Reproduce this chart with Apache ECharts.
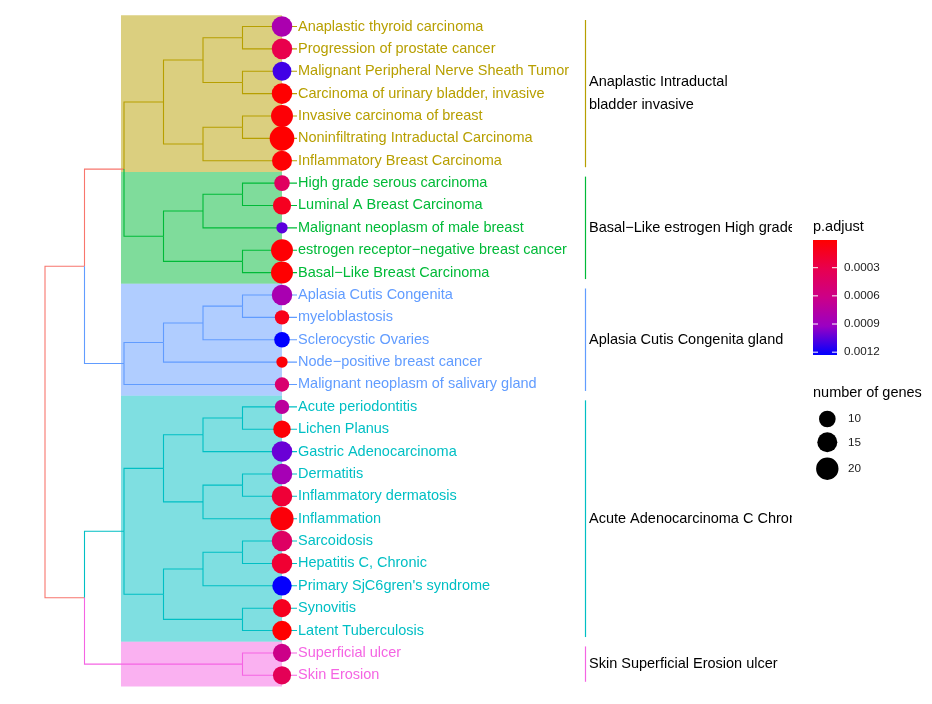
<!DOCTYPE html>
<html>
<head>
<meta charset="utf-8">
<script src="https://cdn.jsdelivr.net/npm/echarts@6/dist/echarts.min.js"></script>
<style>html,body{margin:0;padding:0;background:#fff;}#c{width:932px;height:704px;}</style>
</head>
<body>
<div id="c"></div>
<script>
// ---------- data ----------
const leafNames = [
  "Anaplastic thyroid carcinoma",
  "Progression of prostate cancer",
  "Malignant Peripheral Nerve Sheath Tumor",
  "Carcinoma of urinary bladder, invasive",
  "Invasive carcinoma of breast",
  "Noninfiltrating Intraductal Carcinoma",
  "Inflammatory Breast Carcinoma",
  "High grade serous carcinoma",
  "Luminal A Breast Carcinoma",
  "Malignant neoplasm of male breast",
  "estrogen receptor\u2212negative breast cancer",
  "Basal\u2212Like Breast Carcinoma",
  "Aplasia Cutis Congenita",
  "myeloblastosis",
  "Sclerocystic Ovaries",
  "Node\u2212positive breast cancer",
  "Malignant neoplasm of salivary gland",
  "Acute periodontitis",
  "Lichen Planus",
  "Gastric Adenocarcinoma",
  "Dermatitis",
  "Inflammatory dermatosis",
  "Inflammation",
  "Sarcoidosis",
  "Hepatitis C, Chronic",
  "Primary SjC6gren's syndrome",
  "Synovitis",
  "Latent Tuberculosis",
  "Superficial ulcer",
  "Skin Erosion"
];
const leafCluster = [0,0,0,0,0,0,0, 1,1,1,1,1, 2,2,2,2,2, 3,3,3,3,3,3,3,3,3,3,3, 4,4];
const pAdjust = [
  0.00082, 0.00030, 0.00110, 0.00001, 0.00003, 0.000005, 0.00002,
  0.00040, 0.00013, 0.00105, 0.00002, 0.000008,
  0.00083, 0.00010, 0.00123, 0.00003, 0.00048,
  0.00072, 0.00003, 0.00102, 0.00085, 0.00022, 0.00004, 0.00042, 0.00020, 0.00122, 0.00013, 0.00001,
  0.00062, 0.00035
];
const geneCount = [
  16, 16, 13, 16, 19, 26, 15,
  9, 12, 7, 19, 19,
  16, 8, 9, 7, 8,
  8, 11, 16, 16, 16, 22, 16, 16, 14, 12, 14,
  12, 12
];
// dendrogram as nested leaf indices
const tree = [
  [
    [
      [[[0,1],[2,3]], [[4,5],6]],
      [[[7,8],9], [10,11]]
    ],
    [[[[12,13],14],15],16]
  ],
  [
    [
      [[[17,18],19], [[20,21],22]],
      [[[23,24],25], [26,27]]
    ],
    [28,29]
  ]
];
const clusterLabels = [
  "Anaplastic Intraductal\nbladder invasive",
  "Basal\u2212Like estrogen High grade",
  "Aplasia Cutis Congenita gland",
  "Acute Adenocarcinoma C Chronic",
  "Skin Superficial Erosion ulcer"
];
const pTicks = [0.0003, 0.0006, 0.0009, 0.0012];
const pTickLabels = ["0.0003", "0.0006", "0.0009", "0.0012"];
const sizeTicks = [10, 15, 20];

// ---------- styles ----------
const clusterColors = ['#B79F00', '#00BA38', '#619CFF', '#00BFC4', '#F564E3'];
const outerColor = '#F8766D';
const gradColors = ['#FF0000', '#E8004F', '#CC0088', '#9A00C3', '#0000FF'];
const FONT = "'Liberation Sans', Arial, Helvetica, sans-serif";

// ---------- tree layout (from structure) ----------
function build(node) {
  if (typeof node === 'number') return {leaf: true, idx: node, y: node, h: 0, leaves: [node]};
  const kids = node.map(build);
  const h = Math.max(...kids.map(k => k.h)) + 1;
  const y = (kids[0].y + kids[kids.length - 1].y) / 2;
  return {leaf: false, kids, h, y, leaves: kids.flatMap(k => k.leaves)};
}
const root = build(tree);
const HMAX = root.h;
function groupOf(n) {
  const s = new Set(n.leaves.map(i => leafCluster[i]));
  return s.size === 1 ? [...s][0] : -1;
}
const edges = [];
(function collect(n) {
  if (n.leaf) return;
  n.kids.forEach(k => {
    edges.push([HMAX - n.h, n.y, HMAX - k.h, k.y, groupOf(k), k.leaf ? 1 : 0]);
    collect(k);
  });
})(root);

const clusters = clusterLabels.map((lab, ci) => {
  const idx = leafCluster.map((c, i) => c === ci ? i : -1).filter(i => i >= 0);
  return [Math.min(...idx), Math.max(...idx), ci];
});

const nMin = Math.min(...geneCount), nMax = Math.max(...geneCount);
function sizeFn(n) { return 11.3 + 13.4 * Math.sqrt((n - nMin) / (nMax - nMin)); }
const pMin = Math.min(...pAdjust), pMax = Math.max(...pAdjust);

const pointData = leafNames.map((nm, i) => [HMAX, i, pAdjust[i], geneCount[i], nm]);

const chart = echarts.init(document.getElementById('c'), null, {renderer: 'canvas'});

// legend geometry
const CB = {x: 813, y: 240, w: 24, h: 115};
const graphics = [];
graphics.push({type: 'text', z: 100, left: 813, top: 219, style: {text: 'p.adjust', font: '14.5px ' + FONT, fill: '#000'}});
graphics.push({type: 'rect', z: 100, shape: {x: CB.x, y: CB.y, width: CB.w, height: CB.h},
  style: {fill: {type: 'linear', x: 0, y: 0, x2: 0, y2: 1,
    colorStops: gradColors.map((c, i) => ({offset: i / (gradColors.length - 1), color: c}))}}});
pTicks.forEach((v, i) => {
  const yy = CB.y + (v - pMin) / (pMax - pMin) * CB.h;
  graphics.push({type: 'line', z: 101, shape: {x1: CB.x, y1: yy, x2: CB.x + 5, y2: yy}, style: {stroke: '#fff', lineWidth: 1}});
  graphics.push({type: 'line', z: 101, shape: {x1: CB.x + CB.w - 5, y1: yy, x2: CB.x + CB.w, y2: yy}, style: {stroke: '#fff', lineWidth: 1}});
  graphics.push({type: 'text', z: 100, x: 844, y: yy, style: {text: pTickLabels[i], font: '11.7px ' + FONT, fill: '#1a1a1a', verticalAlign: 'middle'}});
});
graphics.push({type: 'text', z: 100, x: 813, y: 393, style: {text: 'number of genes', font: '14.5px ' + FONT, fill: '#000', verticalAlign: 'middle'}});
const sizeY = [419, 442.3, 468.7];
sizeTicks.forEach((n, i) => {
  graphics.push({type: 'circle', z: 100, shape: {cx: 827.3, cy: sizeY[i], r: sizeFn(n) / 2}, style: {fill: '#000'}});
  graphics.push({type: 'text', z: 100, x: 848, y: sizeY[i], style: {text: String(n), font: '11.7px ' + FONT, fill: '#1a1a1a', verticalAlign: 'middle'}});
});

const LABEL_OFF = 16, BAR_OFF = 303.5, CLADE_TXT_OFF = 307, HILIGHT_LEFT = 1.924, PANEL_RIGHT = 792;

const option = {
  backgroundColor: '#fff',
  animation: false,
  grid: {left: 45, top: 26.5, width: 237, height: 648.8, show: false},
  xAxis: {type: 'value', min: 0, max: HMAX, show: false},
  yAxis: {type: 'value', min: 0, max: leafNames.length - 1, inverse: true, show: false},
  visualMap: {type: 'continuous', show: false, seriesIndex: 2, dimension: 2, min: pMin, max: pMax,
    inRange: {color: gradColors}},
  graphic: graphics,
  series: [
    { // hilight rectangles
      type: 'custom', clip: false, z: 1,
      data: clusters,
      renderItem: function (params, api) {
        const a = api.coord([HILIGHT_LEFT, api.value(0) - 0.5]);
        const b = api.coord([HMAX, api.value(1) + 0.5]);
        return {type: 'rect', shape: {x: a[0], y: a[1], width: b[0] - a[0], height: b[1] - a[1]},
          style: {fill: clusterColors[api.value(2)], opacity: 0.5}};
      }
    },
    { // tree edges
      type: 'custom', clip: false, z: 2,
      data: edges,
      renderItem: function (params, api) {
        const p = api.coord([api.value(0), api.value(1)]);
        const m = api.coord([api.value(0), api.value(3)]);
        const c = api.coord([api.value(2), api.value(3)]);
        if (api.value(5) === 1) c[0] += LABEL_OFF - 1;
        const g = api.value(4);
        return {type: 'polyline', shape: {points: [p, m, c]},
          style: {stroke: g < 0 ? outerColor : clusterColors[g], lineWidth: 1.1, fill: null}};
      }
    },
    { // leaf points
      type: 'scatter', z: 3,
      data: pointData,
      encode: {x: 0, y: 1},
      symbol: 'circle',
      symbolSize: function (val) { return sizeFn(val[3]); },
      itemStyle: {opacity: 1}
    },
    { // leaf labels
      type: 'custom', clip: false, z: 4,
      data: pointData.map(d => [d[0], d[1]]),
      renderItem: function (params, api) {
        const i = api.value(1);
        const c = api.coord([api.value(0), i]);
        return {type: 'text', x: c[0] + LABEL_OFF, y: c[1],
          style: {text: leafNames[i], font: '14.5px ' + FONT, fill: clusterColors[leafCluster[i]],
            verticalAlign: 'middle', align: 'left'}};
      }
    },
    { // clade bars + labels (clipped at the panel edge)
      type: 'custom', clip: false, z: 4,
      data: clusters,
      renderItem: function (params, api) {
        const s = api.value(0), e = api.value(1), ci = api.value(2);
        const a = api.coord([HMAX, s - 0.29]);
        const b = api.coord([HMAX, e + 0.29]);
        const mid = api.coord([HMAX, (s + e) / 2]);
        return {type: 'group', children: [
          {type: 'line', shape: {x1: a[0] + BAR_OFF, y1: a[1], x2: a[0] + BAR_OFF, y2: b[1]},
            style: {stroke: clusterColors[ci], lineWidth: 1.2}},
          {type: 'text', x: a[0] + CLADE_TXT_OFF, y: mid[1],
            style: {text: clusterLabels[ci], font: '14.5px ' + FONT, fill: '#000',
              verticalAlign: 'middle', align: 'left', lineHeight: 22.3}},
          {type: 'rect', shape: {x: PANEL_RIGHT, y: mid[1] - 13, width: 100, height: 26},
            style: {fill: '#fff'}}
        ]};
      }
    }
  ]
};
chart.setOption(option);
</script>
</body>
</html>
